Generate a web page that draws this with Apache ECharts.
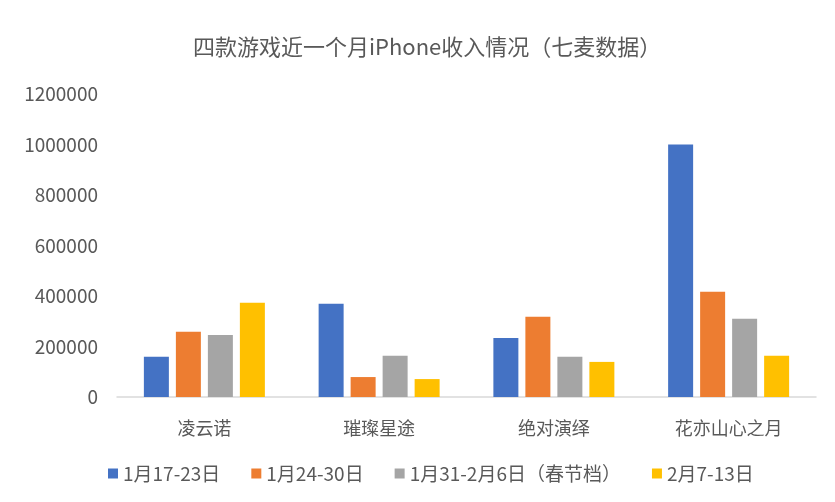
<!DOCTYPE html>
<html>
<head>
<meta charset="utf-8">
<script src="https://cdn.jsdelivr.net/npm/echarts@6/dist/echarts.min.js"></script>
<style>
  html, body { margin: 0; padding: 0; background: #fff; }
  #chart { width: 835px; height: 502px; }
</style>
</head>
<body>
<div id="chart"></div>
<script>
const categories = ["凌云诺", "璀璨星途", "绝对演绎", "花亦山心之月"];
const seriesNames = ["1月17-23日", "1月24-30日", "1月31-2月6日（春节档）", "2月7-13日"];
const week1 = [159000, 369000, 234000, 1000000];
const week2 = [258000, 79000, 318000, 417000];
const week3 = [246000, 163000, 159000, 310000];
const week4 = [373000, 71000, 139000, 163000];
const colors = ["#4472C4", "#ED7D31", "#A5A5A5", "#FFC000"];

const font = "'Noto Sans CJK SC', 'Noto Sans', sans-serif";
const chart = echarts.init(document.getElementById("chart"));

const values = [week1, week2, week3, week4];

chart.setOption({
  animation: false,
  textStyle: { fontFamily: font },
  title: {
    text: "四款游戏近一个月iPhone收入情况（七麦数据）",
    left: 188,
    top: 31,
    textStyle: { color: "#595959", fontSize: 22, fontWeight: "normal", fontFamily: font },
  },
  grid: { left: 117, right: 19, top: 94, bottom: 105 },
  legend: {
    data: seriesNames,
    bottom: 14,
    left: 103,
    itemWidth: 10,
    itemHeight: 10,
    itemGap: 31,
    icon: "rect",
    textStyle: { color: "#595959", fontSize: 19, fontFamily: font },
  },
  xAxis: {
    type: "category",
    data: categories,
    axisLine: { lineStyle: { color: "#D9D9D9", width: 1.5 } },
    axisTick: { show: false },
    axisLabel: { color: "#595959", fontSize: 18, margin: 22, fontFamily: font },
  },
  yAxis: {
    type: "value",
    min: 0,
    max: 1200000,
    interval: 200000,
    axisLine: { show: false },
    axisTick: { show: false },
    splitLine: { show: false },
    axisLabel: {
      color: "#595959",
      fontSize: 19,
      margin: 19,
      fontFamily: font,
      formatter: (v) => String(v),
    },
  },
  series: seriesNames.map((name, i) => ({
    name: name,
    type: "bar",
    data: values[i],
    barWidth: 25,
    barGap: "28%",
    itemStyle: { color: colors[i] },
  })),
});
</script>
</body>
</html>
